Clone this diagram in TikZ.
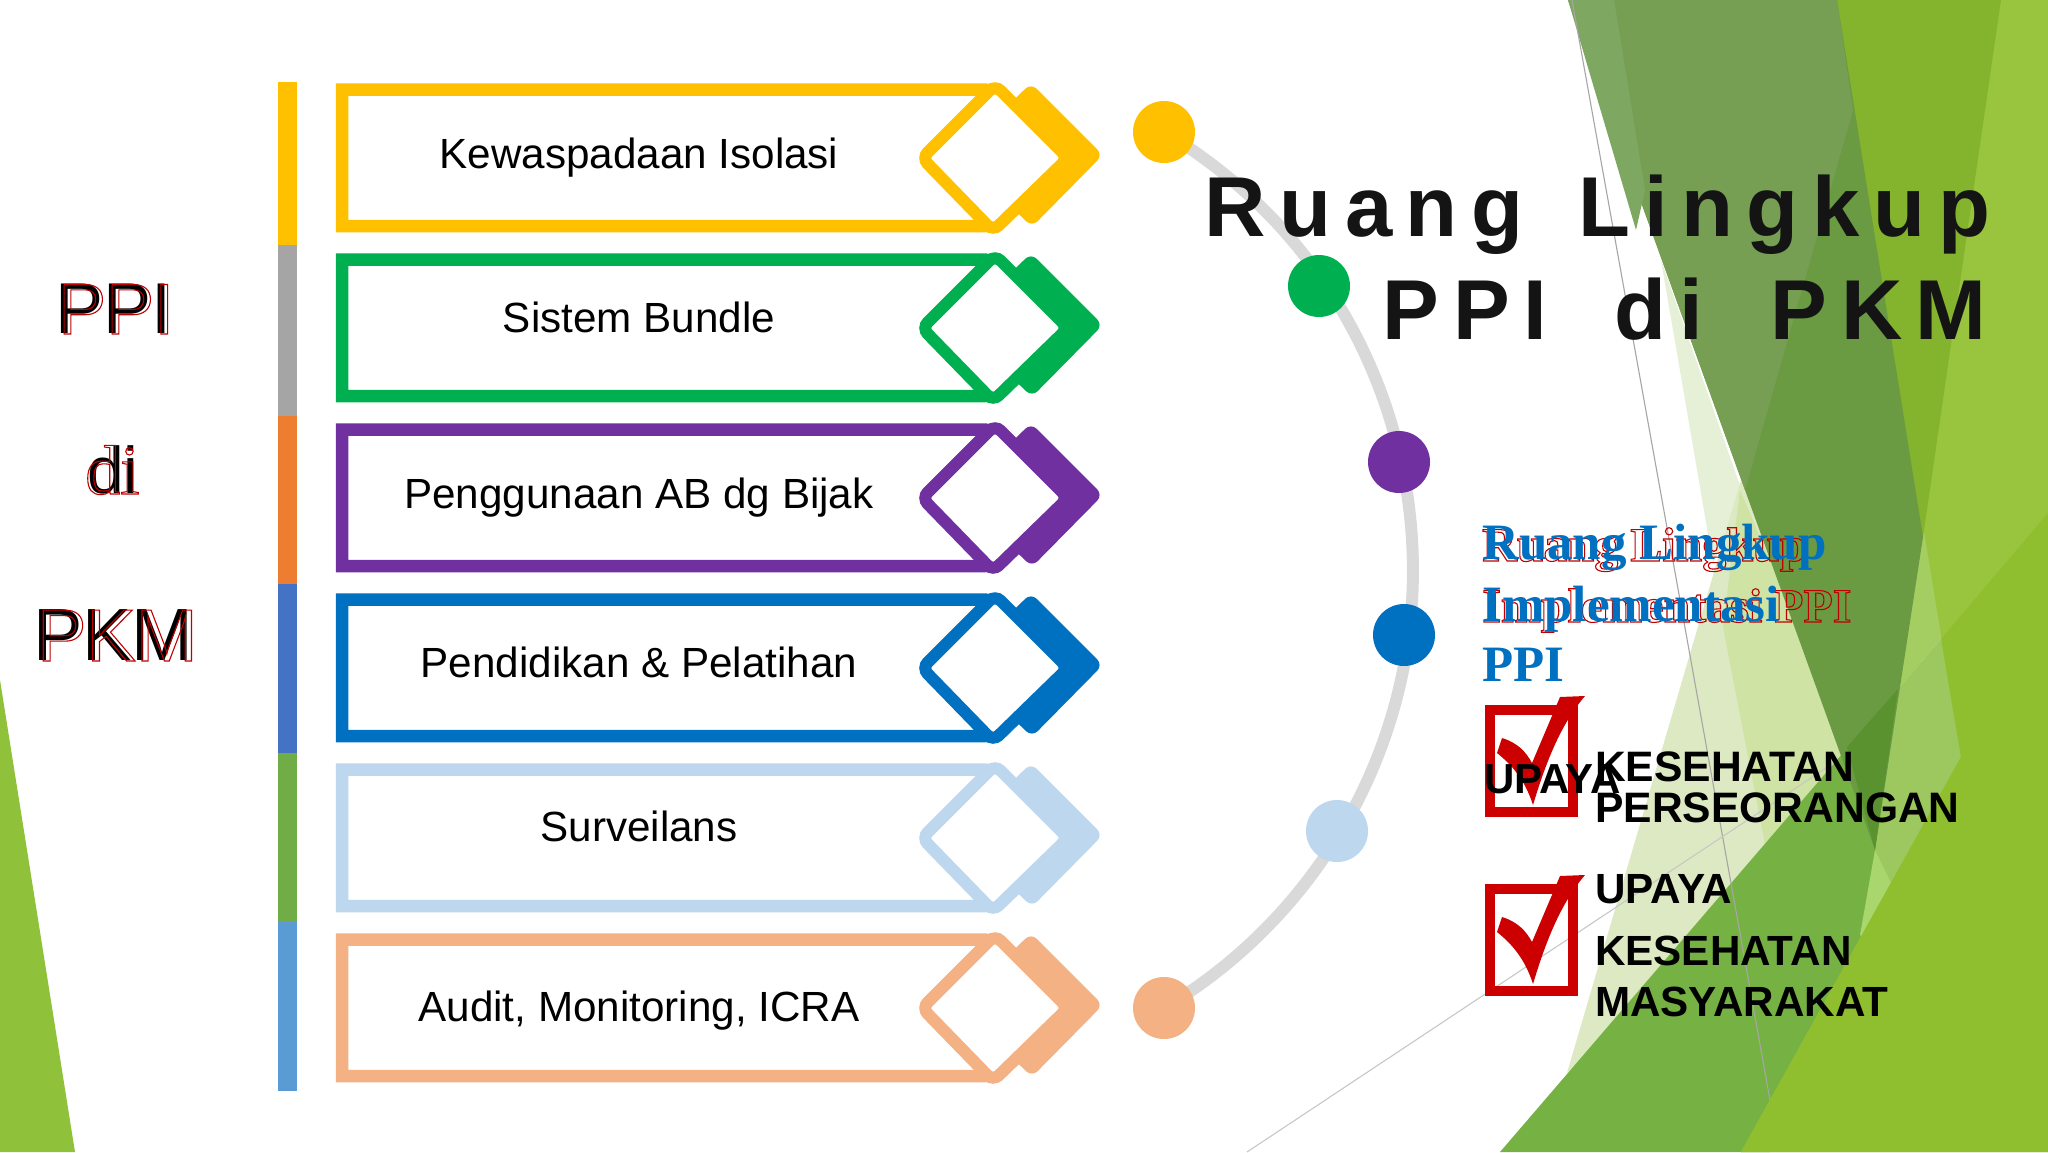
\documentclass[tikz,border=0pt]{standalone}
\usepackage{fontspec}
\setmainfont{Liberation Sans}
\newfontfamily\serifface{Liberation Serif}
\newfontfamily\titleface[LetterSpace=16]{Liberation Sans}
\definecolor{ppiyellow}{HTML}{FFC000}
\definecolor{ppigreen}{HTML}{00B050}
\definecolor{ppipurple}{HTML}{7030A0}
\definecolor{ppiblue}{HTML}{0070C0}
\definecolor{ppisky}{HTML}{BDD7EE}
\definecolor{ppipeach}{HTML}{F4B183}
\definecolor{ppired}{HTML}{CC0000}
% stroke only text
\newcommand{\outlined}[1]{\special{pdf:code 1 Tr 1.1 w 0.75 0 0 RG}#1\special{pdf:code 0 Tr 0 0 0 RG 1 w}}
\tikzset{
	facet/.style={draw=none},
	thinline/.style={line width=1.1pt},
	boxlabel/.style={font=\fontsize{42.2}{50}\selectfont,anchor=base,inner sep=0pt},
	heading/.style={font=\titleface\bfseries\fontsize{85}{100}\selectfont,text=black!92,anchor=base east,inner sep=0pt},
	sidelabel/.style={font=\fontsize{72}{80}\selectfont,anchor=base west,inner sep=0pt},
	scopetext/.style={font=\serifface\bfseries\fontsize{51}{60}\selectfont,text=ppiblue,anchor=base west,inner sep=0pt},
	scopeshade/.style={font=\serifface\bfseries\fontsize{48}{60}\selectfont,anchor=base west,inner sep=0pt},
	upaya/.style={font=\bfseries\fontsize{42.6}{50}\selectfont,anchor=base west,inner sep=0pt},
	upayatwo/.style={upaya,font=\bfseries\fontsize{42.2}{50}\selectfont},
	dot/.style={circle,minimum size=62pt,inner sep=0pt},
}
\begin{document}
\begin{tikzpicture}[x=1pt,y=-1pt]
	\useasboundingbox (0,0) rectangle (2048,1152);
	\fill[white] (0,0) rectangle (2048,1152);

	%background facets
	\fill[facet,fill={rgb,255:red,144;green,193;blue,58}] (0,680) -- (75,1152) -- (0,1152) -- cycle;
	\fill[facet,fill={rgb,255:red,230;green,240;blue,214}] (1661,260) -- (1745,500) -- (1713,563) -- cycle;
	\fill[facet,fill={rgb,255:red,221;green,233;blue,194}] (1567,1073) -- (1741,480) -- (1860,770) -- (1770,870) -- cycle;
	\fill[facet,fill={rgb,255:red,207;green,227;blue,165}] (1740,490) -- (1723,627) -- (1770,870) -- (1860,770) -- cycle;
	\fill[facet,fill={rgb,255:red,118;green,177;blue,68}] (1500,1152) -- (1898,689) -- (1930,700) -- (1900,900) -- (1770,1152) -- cycle;
	\fill[facet,fill={rgb,255:red,165;green,206;blue,98}] (1915,520) -- (1990,520) -- (1980,600) -- (1941,639) -- (1898,689) -- cycle;
	\fill[facet,fill={rgb,255:red,156;green,200;blue,95}] (1898,689) -- (1941,639) -- (1975,757) -- (1895,895) -- (1875,850) -- cycle;
	\fill[facet,fill={rgb,255:red,170;green,215;blue,109}] (1875,850) -- (1892,885) -- (1875,945) -- (1860,935) -- cycle;
	\fill[facet,fill={rgb,255:red,152;green,197;blue,61}] (1837,0) -- (2048,0) -- (2048,1152) -- (1741,1152) -- (1961,757) -- cycle;
	\fill[facet,fill={rgb,255:red,143;green,190;blue,46}] (2048,513) -- (1941,639) -- (1961,757) -- (1741,1152) -- (2048,1152) -- cycle;
	\fill[facet,fill={rgb,255:red,132;green,179;blue,46}] (1825,0) -- (2001,0) -- (1923,537) -- (1915,530) -- cycle;
	\fill[facet,fill={rgb,255:red,106;green,154;blue,66}] (1568,0) -- (1837,0) -- (1923,537) -- (1875,850) -- cycle;
	\fill[facet,fill={rgb,255:red,118;green,159;blue,83}] (1568,0) -- (1837,0) -- (1853,110) -- (1745,490) -- cycle;
	\fill[facet,fill={rgb,255:red,126;green,168;blue,98}] (1568,0) -- (1614,0) -- (1645,190) -- (1636,230) -- cycle;
	\fill[facet,fill={rgb,255:red,90;green,146;blue,48}] (1847,747) -- (1898,689) -- (1875,850) -- cycle;
	\draw[thinline,black!35] (1572,0) -- (1770,1100);
	\draw[thinline,black!22] (1247,1152) -- (1835,762);

	%colour strip
	\foreach \top/\bot/\col in {82/245/FFC000,245/416/A5A5A5,416/584/ED7D31,584/753/4472C4,753/922/70AD47,922/1091/5B9BD5}{
		\definecolor{stripcol}{HTML}{\col}
		\fill[stripcol] (278,\top) rectangle (297,\bot);
	}

	%arrow boxes
	\foreach \n/\dy/\col/\base/\txt in {1/0/ppiyellow/168/{Kewaspadaan Isolasi},2/170/ppigreen/332/{Sistem Bundle},3/340/ppipurple/508/{Penggunaan AB dg Bijak},4/510/ppiblue/677/{Pendidikan \& Pelatihan},5/680/ppisky/841/{Surveilans},6/850/ppipeach/1021/{Audit, Monitoring, ICRA}}{
		\begin{scope}[shift={(0,\dy)}]
			\draw[\col,line width=12.5pt,fill=white] (342,89.5) [rounded corners=7pt] -- (992,89.5) -- (992,226) [sharp corners] -- (342,226) -- cycle;
			\fill[\col,draw=\col,line width=4pt,rounded corners=6pt] (1031,86) -- (1100,155) -- (1032,224) -- (960,155) -- cycle;
			\draw[\col,line width=12pt,fill=white,rounded corners=8pt] (922,158) -- (995,85) -- (1068,158) -- (993,231) -- cycle;
		\end{scope}
		\node (box\n) at (639,\base) [boxlabel]{\txt};
	}

	%ring with dots
	\draw[black!15,line width=12pt] (1164,132) arc[start angle=-59.2,end angle=59.2,radius=510];
	\node (dot1) at (1164,132) [dot,fill=ppiyellow]{};
	\node (dot2) at (1319,286) [dot,fill=ppigreen]{};
	\node (dot3) at (1399,462) [dot,fill=ppipurple]{};
	\node (dot4) at (1404,635) [dot,fill=ppiblue]{};
	\node (dot5) at (1337,831) [dot,fill=ppisky]{};
	\node (dot6) at (1164,1008) [dot,fill=ppipeach]{};

	%heading
	\node (head1) at (1991,236) [heading]{Ruang\hspace{18pt} Lingkup};
	\node (head2) at (1987,339) [heading]{PPI\hspace{30pt} di\hspace{30pt} PKM};

	%side labels
	\node (side1) at (55,333) [sidelabel]{PPI};
	\node (side1b) at (58,334) [sidelabel]{\outlined{PPI}};
	\node (side2) at (87,493) [sidelabel,font=\fontsize{66}{80}\selectfont]{di};
	\node (side2b) at (85,494) [sidelabel,font=\serifface\fontsize{70}{80}\selectfont]{\outlined{di}};
	\node (side3) at (33,660) [sidelabel,font=\fontsize{74}{80}\selectfont]{PKM};
	\node (side3b) at (37,661) [sidelabel,font=\fontsize{74}{80}\selectfont]{\outlined{PKM}};

	%scope text
	\node (shade1) at (1482,561) [scopeshade]{\outlined{Ruang Lingkup}};
	\node (shade2) at (1482,622) [scopeshade]{\outlined{Implementasi PPI}};
	\node (scope1) at (1482,559) [scopetext]{Ruang Lingkup};
	\node (scope2) at (1482,621) [scopetext]{Implementasi};
	\node (scope3) at (1482,681) [scopetext]{PPI};

	%check boxes
	\foreach \dy in {0,179}{
		\begin{scope}[shift={(0,\dy)}]
			\draw[ppired,line width=10pt] (1490,710) rectangle (1573,812);
			\fill[ppired] (1502,738) .. controls (1518,743) and (1526,752) .. (1532,763) -- (1560,697) -- (1585,696) .. controls (1560,725) and (1545,765) .. (1533,805) .. controls (1525,780) and (1512,765) .. (1497,753) -- cycle;
		\end{scope}
	}

	\node (upaya1) at (1484,793) [upaya,font=\bfseries\fontsize{42}{50}\selectfont]{UPAYA};
	\node (sehat1) at (1595,781) [upaya]{KESEHATAN};
	\node (orang1) at (1595,822) [upaya]{PERSEORANGAN};
	\node (upaya2) at (1595,903) [upayatwo]{UPAYA};
	\node (sehat2) at (1595,965) [upayatwo]{KESEHATAN};
	\node (masy2) at (1595,1016) [upayatwo]{MASYARAKAT};
\end{tikzpicture}
\end{document}
